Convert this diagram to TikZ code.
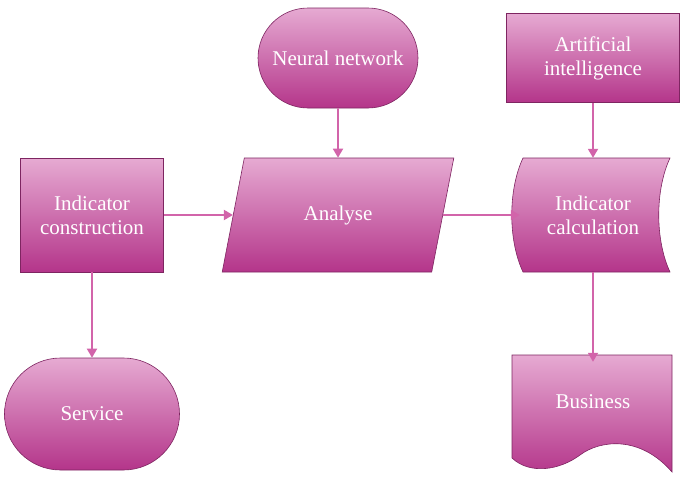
\documentclass[tikz,border=0pt]{standalone}
\usepackage{fontspec}
\setmainfont{Liberation Serif}
\usetikzlibrary{shapes.geometric,shapes.misc,arrows.meta}
\definecolor{ltop}{HTML}{E6AAD2}
\definecolor{lbot}{HTML}{B4358A}
\definecolor{arr}{HTML}{D264AA}
\begin{document}
\begin{tikzpicture}[x=1pt,y=-1pt,
  box/.style={top color=ltop,bottom color=lbot,draw=lbot!70!black,line width=0.6pt},
  lab/.style={text=white,font=\fontsize{21}{24}\selectfont,align=center},
  conn/.style={draw=arr,line width=1.8pt,-{Triangle[length=9pt,width=10pt]}}]
\useasboundingbox (0,0) rectangle (685,480);
% Neural network
\node[box,lab,rounded rectangle,minimum width=160,minimum height=100,inner sep=0] (nn) at (338,58) {Neural network};
% Artificial intelligence
\node[box,lab,rectangle,minimum width=173,minimum height=89,inner sep=0] (ai) at (593,58) {Artificial\\intelligence};
% Indicator construction
\node[box,lab,rectangle,minimum width=143,minimum height=114,inner sep=0] (ic) at (92,215) {Indicator\\construction};
% Analyse
\node[box,lab,trapezium,trapezium left angle=67,trapezium right angle=113,minimum width=233,minimum height=114,inner sep=0,trapezium stretches=true] (an) at (338,215) {Analyse};
% Indicator calculation
\path[box] (523,158) -- (670,158) .. controls (655,190) and (655,240) .. (670,272) -- (523,272) .. controls (508,240) and (508,190) .. (523,158) -- cycle;
\node[lab,minimum width=140,minimum height=114] (cal) at (593,215) {Indicator\\calculation};
% Service
\node[box,lab,rounded rectangle,minimum width=175,minimum height=112,inner sep=0] (sv) at (92,414) {Service};
% Business
\path[box] (512,355) -- (672,355) -- (672,472) .. controls (640,435) and (600,440) .. (580,455) .. controls (560,470) and (530,475) .. (512,458) -- cycle;
\node[lab,minimum width=160,minimum height=80] (bu) at (593,402) {Business};
% connectors
\draw[conn] (nn.south) -- (an.north);
\draw[conn] (ai.south) -- (cal.north);
\draw[conn] (ic.east) -- (an.west);
\draw[conn] (an.east) -- ([xshift=-3pt]cal.west);
\draw[conn] (ic.south) -- (sv.north);
\draw[conn] (cal.south) -- (bu.north);
\end{tikzpicture}
\end{document}
